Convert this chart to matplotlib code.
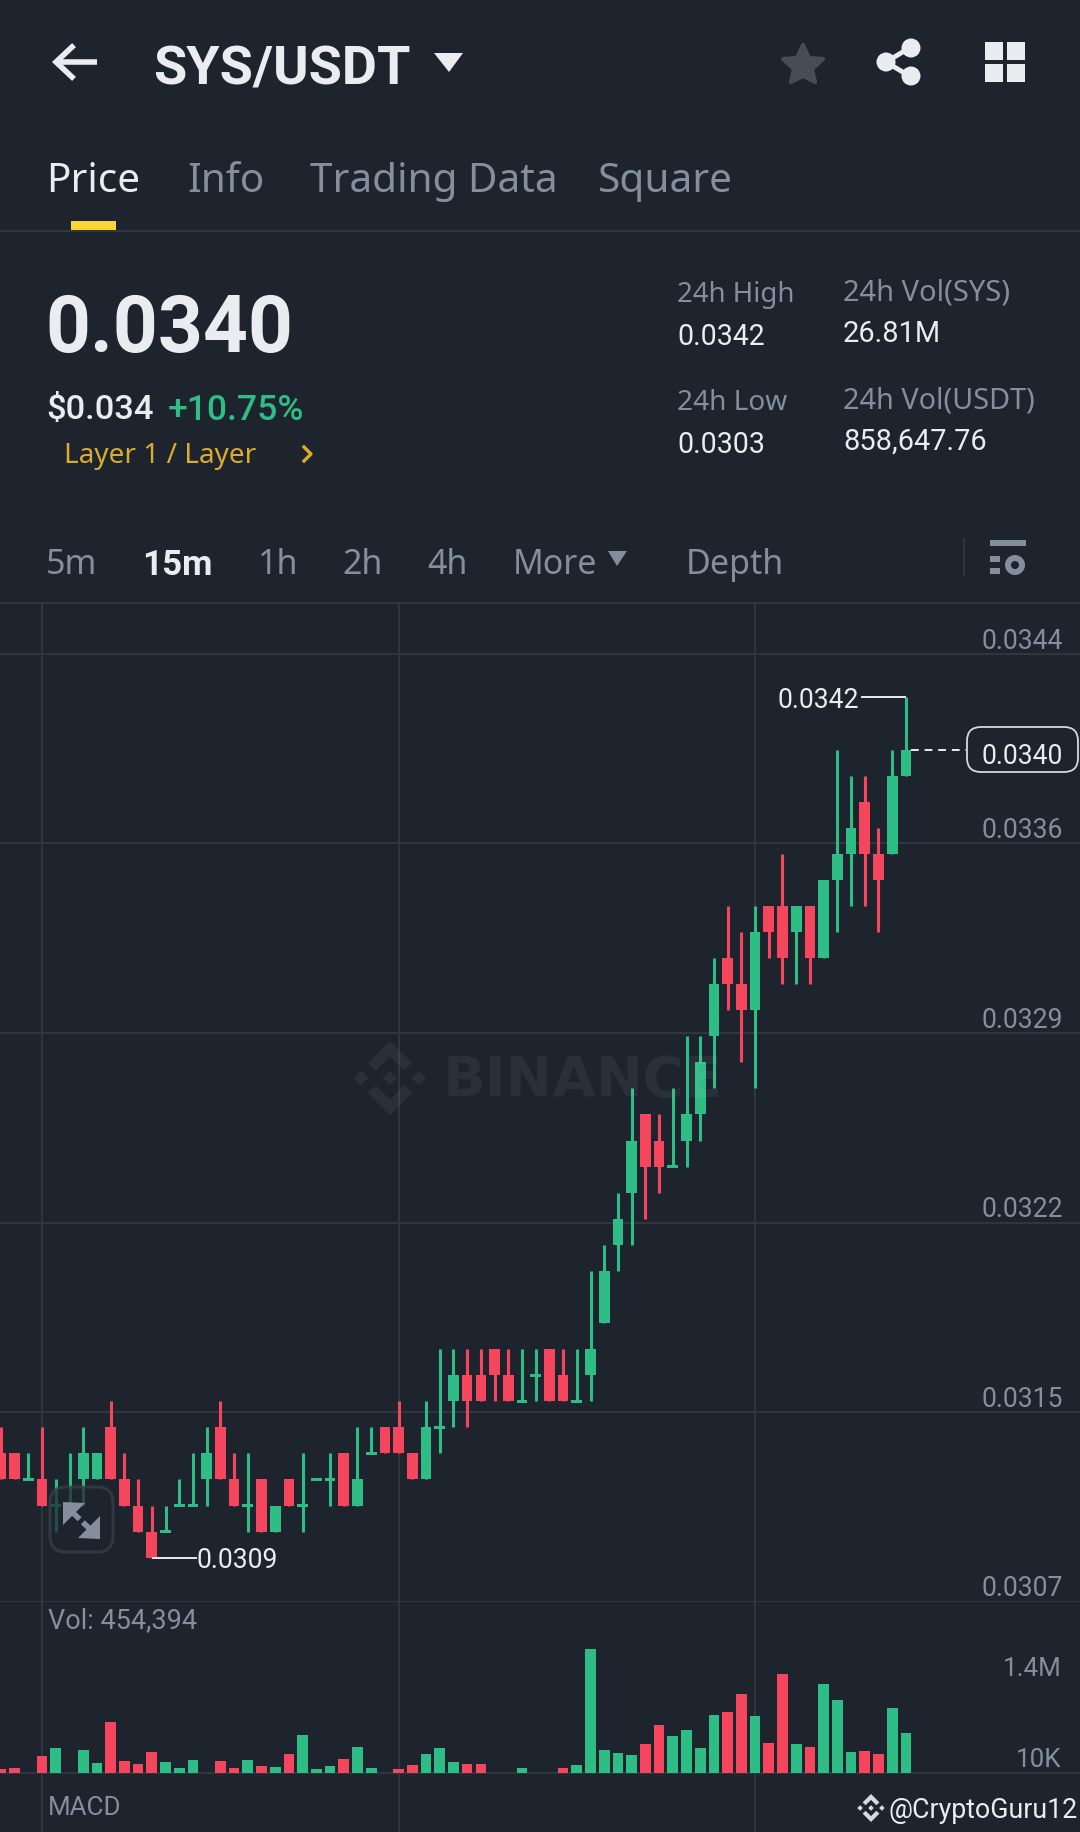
#!/usr/bin/env python3
# -*- coding: utf-8 -*-
import matplotlib
matplotlib.use("Agg")
import matplotlib.pyplot as plt
from matplotlib.patches import Circle, FancyBboxPatch, Polygon, Rectangle

# candle data, oldest first
opens = [.0313, .0313, .0312, .0312, .0311, .0311, .0312, .0312, .0314, .0312,
         .0311, .0310, .0310, .0311, .0311, .0312, .0314, .0312, .0311, .0312,
         .0310, .0312, .0311, .0312, .0312, .0313, .0311, .0313, .0314, .0314,
         .0313, .0312, .0314, .0315, .0316, .0316, .0317, .0316, .0315, .0316,
         .0317, .0316, .0315, .0316, .0318, .0321, .0323, .0326, .0325, .0324,
         .0325, .0326, .0329, .0332, .0331, .0330, .0334, .0334, .0333, .0334,
         .0332, .0335, .0336, .0338, .0336, .0336, .0339]
closes = [.0312, .0312, .0312, .0311, .0311, .0311, .0313, .0313, .0312, .0311,
          .0310, .0309, .0310, .0311, .0311, .0313, .0312, .0311, .0311, .0310,
          .0311, .0311, .0311, .0312, .0312, .0311, .0312, .0313, .0313, .0313,
          .0312, .0314, .0314, .0316, .0315, .0315, .0316, .0315, .0315, .0316,
          .0315, .0315, .0315, .0317, .0320, .0322, .0325, .0324, .0324, .0324,
          .0326, .0328, .0331, .0331, .0330, .0333, .0333, .0332, .0334, .0332,
          .0335, .0336, .0337, .0336, .0335, .0339, .0340]
highs = [.0314, .0313, .0313, .0314, .0312, .0313, .0314, .0313, .0315, .0313,
         .0312, .0311, .0311, .0312, .0313, .0314, .0315, .0313, .0313, .0312,
         .0311, .0312, .0313, .0312, .0313, .0313, .0314, .0314, .0314, .0315,
         .0313, .0315, .0317, .0317, .0317, .0317, .0317, .0317, .0317, .0317,
         .0317, .0317, .0317, .0320, .0321, .0323, .0327, .0326, .0326, .0327,
         .0329, .0329, .0332, .0334, .0333, .0334, .0334, .0336, .0334, .0334,
         .0335, .0340, .0339, .0339, .0337, .0340, .0342]
lows = [.0312, .0312, .0312, .0311, .0310, .0311, .0311, .0312, .0312, .0311,
        .0310, .0309, .0310, .0311, .0311, .0311, .0312, .0311, .0310, .0310,
        .0310, .0311, .0310, .0312, .0311, .0311, .0311, .0313, .0313, .0313,
        .0312, .0312, .0313, .0314, .0314, .0315, .0315, .0315, .0315, .0315,
        .0315, .0315, .0315, .0315, .0318, .0320, .0321, .0322, .0323, .0324,
        .0324, .0325, .0327, .0330, .0328, .0327, .0332, .0331, .0331, .0331,
        .0332, .0333, .0334, .0334, .0333, .0336, .0339]

# volume in thousands, 0 where the picture shows no bar
volumes = [49, 60, 0, 188, 286, 0, 263, 113, 579, 135, 105, 233, 128, 53, 150, 0, 132,
           53, 150, 83, 64, 214, 432, 41, 83, 158, 293, 56, 0, 45, 86, 218, 286, 120,
           98, 98, 0, 0, 53, 0, 0, 56, 86, 1400, 256, 226, 199, 331, 538, 417,
           489, 286, 654, 684, 887, 643, 338, 1117, 323, 297, 1008, 827, 233,
           252, 218, 737, 455]

price_grid = [.034366, .03364, .032912, .032184, .031457, .03073]
price_labels = ["0.0344", "0.0336", "0.0329", "0.0322", "0.0315", "0.0307"]
time_grid = [3, 29, 55]
vol_labels = ["1.4M", "10K"]

timeframes = ["5m", "1h", "2h", "4h", "More"]
timeframe_x = [46, 258, 342, 427, 513]
tabs = ["Price", "Info", "Trading Data", "Square"]
tab_x = [46, 187, 310, 598]

BG = "#1e242e"
GRID = "#30363f"
GREEN = "#2ebd85"
RED = "#f6465d"
WHITE = "#eaecef"
GREY = "#848e9c"
YELLOW = "#d9ab2e"
NUM = "Roboto"
SANS = "Noto Sans"

W, H = 1080, 1833
PX = 0.72  # font points per pixel at dpi 100


def rect(x0, y0, x1, y1):
    return [x0 / W, 1 - y1 / H, (x1 - x0) / W, (y1 - y0) / H]


def binance_logo(ax, cx, cy, s, color, alpha=1.0, zorder=2):
    shapes = [
        [(0, -.2), (.2, 0), (0, .2), (-.2, 0)],
        [(-.78, -.2), (-.58, 0), (-.78, .2), (-.98, 0)],
        [(.78, -.2), (.98, 0), (.78, .2), (.58, 0)],
        [(-.6, -.4), (0, -1), (.6, -.4), (.38, -.2), (0, -.58), (-.38, -.2)],
        [(-.6, .4), (0, 1), (.6, .4), (.38, .2), (0, .58), (-.38, .2)],
    ]
    for pts in shapes:
        ax.add_patch(Polygon([(cx + a * s, cy + b * s) for a, b in pts],
                             fc=color, ec="none", alpha=alpha, zorder=zorder))


fig = plt.figure(figsize=(W / 100, H / 100), dpi=100, facecolor=BG)

# back layer for the header
back = fig.add_axes([0, 0, 1, 1], zorder=0)
back.set_xlim(0, W)
back.set_ylim(H, 0)
back.axis("off")

# candles
ax = fig.add_axes(rect(0, 604, W, 1603), zorder=1)
ax.patch.set_alpha(0)
xlim = (-0.073, 78.7)
ax.set_xlim(xlim)
ax.set_ylim(0.03073, 0.034562)
ax.set_yticks(price_grid)
ax.set_xticks(time_grid)
ax.grid(True, color=GRID, lw=1.5)
ax.set_axisbelow(True)
ax.tick_params(length=0, labelleft=False, labelbottom=False)
for s in ax.spines.values():
    s.set_visible(False)

for i in range(len(opens)):
    c = GREEN if closes[i] >= opens[i] else RED
    ax.vlines(i, lows[i], highs[i], color=c, lw=2.2, zorder=3)
    body = abs(closes[i] - opens[i])
    if body < 1e-6:
        ax.bar(i, 0.000011, bottom=opens[i] - 0.0000055, width=0.78, color=c, zorder=3)
    else:
        ax.bar(i, body, bottom=min(opens[i], closes[i]), width=0.78, color=c, zorder=3)

trans = ax.get_yaxis_transform()
for p, lab in zip(price_grid, price_labels):
    ax.annotate(lab, (1, p), xycoords=trans, xytext=(-17, 14), textcoords="offset pixels",
                ha="right", va="center", color=GREY, fontsize=26.5 * PX, family=NUM)

# high / low markers
hi = highs.index(max(highs))
lo = lows.index(min(lows))
ax.plot([hi - 3.3, hi], [highs[hi], highs[hi]], color=WHITE, lw=1.4, zorder=4, solid_capstyle="butt")
ax.annotate(f"{highs[hi]:.4f}", (hi - 3.45, highs[hi]), xytext=(0, -2), textcoords="offset pixels",
            color=WHITE, ha="right", va="center", fontsize=26.5 * PX, family=NUM, zorder=4)
ax.plot([lo, lo + 3.3], [lows[lo], lows[lo]], color=WHITE, lw=1.4, zorder=4, solid_capstyle="butt")
ax.annotate(f"{lows[lo]:.4f}", (lo + 3.25, lows[lo]), xytext=(0, -2), textcoords="offset pixels",
            color=WHITE, ha="left", va="center", fontsize=26.5 * PX, family=NUM, zorder=4)

# volume
vax = fig.add_axes(rect(0, 1603, W, 1774), zorder=1)
vax.patch.set_alpha(0)
vax.set_xlim(xlim)
vax.set_ylim(0, 171 / 124 * 1400)
vax.set_xticks(time_grid)
vax.set_yticks([])
vax.grid(True, axis="x", color=GRID, lw=1.5)
vax.set_axisbelow(True)
vax.tick_params(length=0, labelleft=False, labelbottom=False)
for s in vax.spines.values():
    s.set_visible(False)
vax.spines["bottom"].set_visible(True)
vax.spines["bottom"].set_color(GRID)
vax.spines["bottom"].set_linewidth(1.5)
vol_colors = [GREEN if closes[i] >= opens[i] else RED for i in range(len(opens))]
vax.bar(range(len(volumes)), volumes, width=0.78, color=vol_colors, zorder=3)

# macd strip, empty
max_ = fig.add_axes(rect(0, 1774, W, H), zorder=1)
max_.patch.set_alpha(0)
max_.set_xlim(xlim)
max_.set_xticks(time_grid)
max_.set_yticks([])
max_.grid(True, axis="x", color=GRID, lw=1.5)
max_.tick_params(length=0, labelleft=False, labelbottom=False)
for s in max_.spines.values():
    s.set_visible(False)

# top layer for everything drawn over the chart
top = fig.add_axes([0, 0, 1, 1], zorder=5)
top.patch.set_alpha(0)
top.set_xlim(0, W)
top.set_ylim(H, 0)
top.axis("off")

# header
back.plot([55, 97], [63, 63], color=WHITE, lw=4, solid_capstyle="butt")
back.plot([72, 56, 72], [48, 63, 78], color=WHITE, lw=4, solid_joinstyle="miter")
back.text(153, 70, "SYS/USDT", color=WHITE, fontsize=54 * PX, family=NUM, weight="bold", va="center")
back.add_patch(Polygon([(434, 54), (463, 54), (449, 73)], fc=WHITE, ec="none"))
star_out = [(803, 46), (809, 59), (823, 60), (812, 70), (815, 83), (803, 77),
            (791, 83), (794, 70), (783, 60), (797, 59)]
back.add_patch(Polygon(star_out, fc="#474d57", ec="#474d57", lw=3, joinstyle="round"))
back.plot([911, 886, 911], [48, 63, 78], color=WHITE, lw=3.5)
for cx, cy, r in [(911, 49, 9.5), (886, 63, 9.5), (911, 77, 9.5)]:
    back.add_patch(Circle((cx, cy), r, fc=WHITE, ec="none"))
for x0, y0 in [(985, 43), (1007, 43), (985, 65), (1007, 65)]:
    back.add_patch(Rectangle((x0, y0), 18, 18, fc=WHITE, ec="none"))

for t, x in zip(tabs, tab_x):
    c = WHITE if t == "Price" else GREY
    back.text(x, 182, t, color=c, fontsize=40.5 * PX, family=SANS, va="center")
back.add_patch(Rectangle((71, 222), 45, 9, fc="#fcd535", ec="none"))
back.plot([0, W], [232, 232], color=GRID, lw=1.5)

# price block
back.text(45, 330, "0.0340", color=WHITE, fontsize=78.5 * PX, family=NUM, weight="bold", va="center")
back.text(46, 410, "$0.034", color=WHITE, fontsize=34.5 * PX, family=NUM, weight="medium", va="center")
back.text(168, 410, "+10.75%", color=GREEN, fontsize=35.5 * PX, family=NUM, weight="medium", va="center")
back.text(64, 456, "Layer 1 / Layer", color=YELLOW, fontsize=28 * PX, family=SANS, va="center")
back.plot([304, 311, 304], [448, 455, 462], color=YELLOW, lw=2.4)

back.text(677, 295, "24h High", color=GREY, fontsize=27.6 * PX, family=SANS, va="center")
back.text(677, 337, "0.0342", color=WHITE, fontsize=28.5 * PX, family=NUM, va="center")
back.text(677, 403, "24h Low", color=GREY, fontsize=28 * PX, family=SANS, va="center")
back.text(677, 445, "0.0303", color=WHITE, fontsize=28.5 * PX, family=NUM, va="center")
back.text(843, 293, "24h Vol(SYS)", color=GREY, fontsize=29 * PX, family=SANS, va="center")
back.text(843, 334, "26.81M", color=WHITE, fontsize=29 * PX, family=NUM, va="center")
back.text(843, 401, "24h Vol(USDT)", color=GREY, fontsize=28.8 * PX, family=SANS, va="center")
back.text(843, 442, "858,647.76", color=WHITE, fontsize=29 * PX, family=NUM, va="center")

# timeframe row
for t, x in zip(timeframes, timeframe_x):
    back.text(x, 565, t, color=GREY, fontsize=34 * PX, family=SANS, va="center")
back.text(142, 565, "15m", color=WHITE, fontsize=35 * PX, family=NUM, weight="bold", va="center")
back.add_patch(Polygon([(608, 552), (627, 552), (617, 567)], fc=GREY, ec="none"))
back.text(686, 565, "Depth", color=GREY, fontsize=34 * PX, family=SANS, va="center")
back.plot([964, 964], [540, 576], color=GRID, lw=1.5)
back.add_patch(Rectangle((990, 541), 36, 6, fc=GREY, ec="none"))
back.add_patch(Rectangle((990, 557), 10, 6, fc=GREY, ec="none"))
back.add_patch(Rectangle((990, 569), 10, 6, fc=GREY, ec="none"))
back.add_patch(Circle((1015, 566), 10, fc=GREY, ec="none"))
back.add_patch(Circle((1015, 566), 4, fc=BG, ec="none"))
back.plot([0, W], [604, 604], color=GRID, lw=1.5)

# watermark, faint and over the candles
binance_logo(top, 390, 1079, 37, "white", alpha=0.055)
top.text(443, 1081, "BINANCE", color="white", alpha=0.055, fontsize=56 * PX,
         family="DejaVu Sans", weight="bold", va="center")

# current price tag
top.plot([911, 966], [750.5, 750.5], color=WHITE, lw=1.4, dashes=(4, 3))
top.add_patch(FancyBboxPatch((967, 728), 111, 45, boxstyle="round,pad=0,rounding_size=14",
                             fc=BG, ec="#d5d8dd", lw=1.3))
top.text(1022, 756, "0.0340", color=WHITE, fontsize=26.5 * PX, family=NUM, ha="center", va="center")

# expand button
top.add_patch(FancyBboxPatch((60, 1498), 43, 45, boxstyle="round,pad=10,rounding_size=16",
                             fc=BG, ec="#3a404a", lw=2.2, alpha=0.72))
top.add_patch(Polygon([(63, 1503), (85, 1504), (63, 1526)], fc=GREY, ec="none"))
top.add_patch(Polygon([(100, 1540), (78, 1539), (100, 1517)], fc=GREY, ec="none"))
top.plot([70, 93], [1511, 1533], color=GREY, lw=4, dashes=(2.4, 0.8))

# volume and macd labels
top.text(48, 1621, "Vol: 454,394", color=GREY, fontsize=27 * PX, family=NUM, va="center")
top.text(48, 1808, "MACD", color=GREY, fontsize=26 * PX, family=NUM, va="center")
top.text(1062, 1669, vol_labels[0], color=GREY, fontsize=26 * PX, family=NUM, ha="right", va="center")
top.text(1062, 1760, vol_labels[1], color=GREY, fontsize=26 * PX, family=NUM, ha="right", va="center")
binance_logo(top, 871, 1809, 14, "#d8dade", zorder=6)
top.text(888, 1811, "@CryptoGuru12", color=WHITE, fontsize=26.7 * PX, family=NUM, va="center")

fig.savefig("out.png", dpi=100, facecolor=BG)
